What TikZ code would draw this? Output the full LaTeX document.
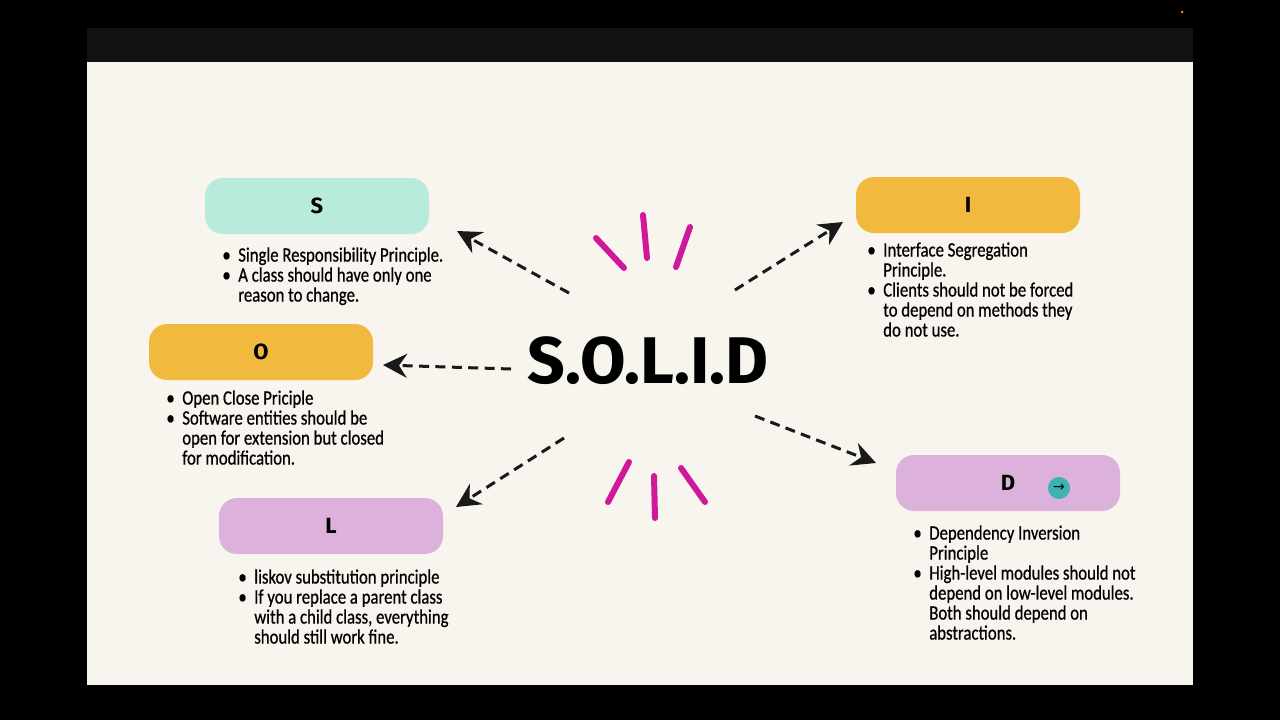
\documentclass[tikz,border=0pt]{standalone}
\usepackage{fontspec}
\setmainfont{Carlito}[FakeStretch=0.82,FakeBold=0.6]
\newfontfamily\titlefont{Fira Sans}[UprightFont=* Bold]
\newfontfamily\symfont{DejaVu Sans}
\usetikzlibrary{arrows.meta}
\definecolor{cream}{HTML}{F8F5EE}
\definecolor{mint}{HTML}{B9EBDD}
\definecolor{gold}{HTML}{F2B93F}
\definecolor{lilac}{HTML}{DCB1DB}
\definecolor{mag}{HTML}{D0189A}
\definecolor{teal}{HTML}{3BB4B0}
\tikzset{
  x=0.5pt,y=-0.5pt,
  box/.style={rounded corners=9pt,minimum width=112pt,minimum height=28pt,inner sep=0pt,font=\titlefont\fontsize{11}{12}\selectfont},
  arr/.style={draw=black!90,line width=1.5pt,dash pattern=on 5pt off 3.2pt,-{Stealth[length=12pt,width=12pt,inset=4pt]}},
  burst/.style={draw=mag,line width=3pt,line cap=round},
  txt/.style={anchor=north west,align=left,inner sep=0pt,font=\fontsize{10.2}{10}\selectfont},
}
\begin{document}
\begin{tikzpicture}
\fill[black] (0,0) rectangle (1280,720);
\fill[black!93] (87,28) rectangle (1193,62);
\fill[cream] (87,62) rectangle (1193,685);
\fill[orange!70!brown] (1182,12) circle (1.5);
% boxes
\node[box,fill=mint] (S) at (317,206) {S};
\node[box,fill=gold] (I) at (968,205) {I};
\node[box,fill=gold] (O) at (261,352) {O};
\node[box,fill=lilac] (L) at (331,526) {L};
\node[box,fill=lilac] (D) at (1008,483) {};
\node[font=\titlefont\fontsize{11}{12}\selectfont] (Dl) at (1008,483) {D};
\node[circle,fill=teal,minimum size=11pt,inner sep=0pt,font=\symfont\fontsize{7}{7}\selectfont] (ic) at (1059,488) {→};
% title
\node[font=\titlefont\fontsize{33}{34}\selectfont] (T) at (648,361) {S.O.L.I.D};
% arrows
\coordinate (s0) at (569,293); \coordinate (s1) at (457,231);
\coordinate (i0) at (735,290); \coordinate (i1) at (843,222);
\coordinate (o0) at (511,369); \coordinate (o1) at (383,365);
\coordinate (l0) at (564,438); \coordinate (l1) at (456,507);
\coordinate (d0) at (755,416); \coordinate (d1) at (876,463);
\draw[arr] (s0) -- (s1);
\draw[arr] (i0) -- (i1);
\draw[arr] (o0) -- (o1);
\draw[arr] (l0) -- (l1);
\draw[arr] (d0) -- (d1);
% bursts
\draw[burst] (596,238) -- (624,268);
\draw[burst] (643,215) -- (647,258);
\draw[burst] (690,227) -- (676,267);
\draw[burst] (629,462) -- (608,502);
\draw[burst] (654,476) -- (655,518);
\draw[burst] (681,468) -- (705,502);
% texts
\node[txt] (st) at (222,247) {\textbullet\ \ Single Responsibility Principle.\\\textbullet\ \ A class should have only one\\\phantom{\textbullet\ \ }reason to change.};
\node[txt] (it) at (867,242) {\textbullet\ \ Interface Segregation\\\phantom{\textbullet\ \ }Principle.\\\textbullet\ \ Clients should not be forced\\\phantom{\textbullet\ \ }to depend on methods they\\\phantom{\textbullet\ \ }do not use.};
\node[txt] (ot) at (166,390) {\textbullet\ \ Open Close Priciple\\\textbullet\ \ Software entities should be\\\phantom{\textbullet\ \ }open for extension but closed\\\phantom{\textbullet\ \ }for modification.};
\node[txt] (lt) at (238,569) {\textbullet\ \ liskov substitution principle\\\textbullet\ \ If you replace a parent class\\\phantom{\textbullet\ \ }with a child class, everything\\\phantom{\textbullet\ \ }should still work fine.};
\node[txt] (dt) at (913,525) {\textbullet\ \ Dependency Inversion\\\phantom{\textbullet\ \ }Principle\\\textbullet\ \ High-level modules should not\\\phantom{\textbullet\ \ }depend on low-level modules.\\\phantom{\textbullet\ \ }Both should depend on\\\phantom{\textbullet\ \ }abstractions.};
\end{tikzpicture}
\end{document}
